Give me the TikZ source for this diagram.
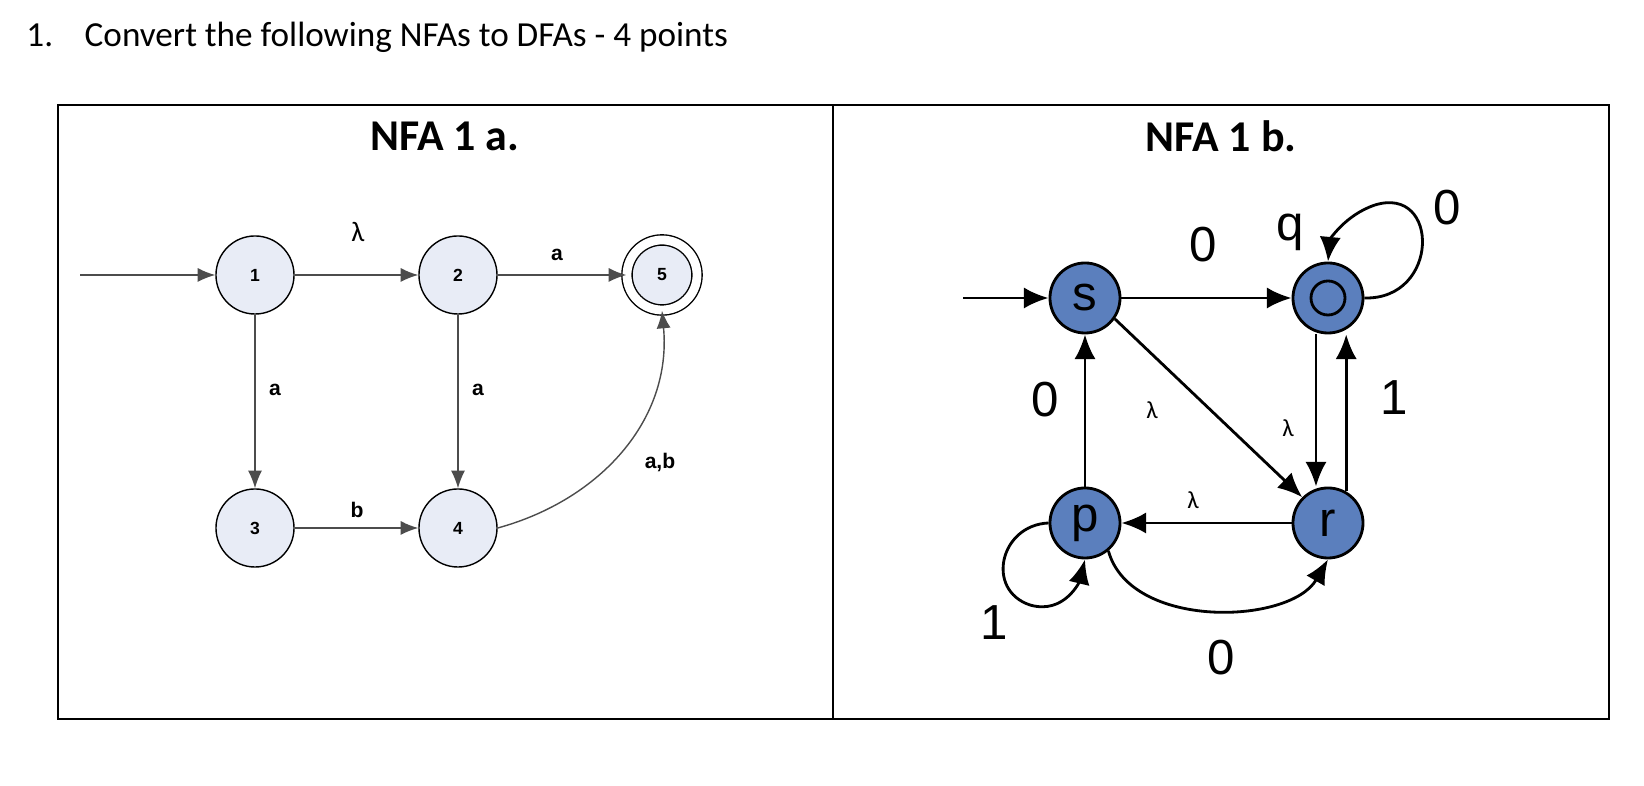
\documentclass[tikz,border=0pt]{standalone}
\usepackage{fontspec}
\setmainfont{Carlito}
\newfontfamily\arialfont{Liberation Sans}
\usetikzlibrary{arrows.meta, positioning}
\definecolor{nfagrey}{HTML}{E8ECF6}
\definecolor{nfablue}{HTML}{5B7FBD}
\begin{document}
\begin{tikzpicture}[x=0.01cm, y=-0.01cm,
    small state/.style={draw, circle, fill=nfagrey, minimum size=0.78cm, inner sep=0pt, font=\arialfont\bfseries\fontsize{5}{6}\selectfont},
    big state/.style={draw, circle, fill=nfablue, minimum size=0.70cm, inner sep=0pt, thick, font=\arialfont\fontsize{14}{14}\selectfont},
    thin arrow/.style={-{Latex[length=5pt,width=4pt]}, draw=black!70},
    thick arrow/.style={-{Latex[length=7pt,width=6pt]}, thick},
    small lbl/.style={font=\arialfont\bfseries\fontsize{6}{7}\selectfont},
    big lbl/.style={font=\arialfont\fontsize{14}{14}\selectfont}]
    \useasboundingbox (0,0) rectangle (1644,786);

    % Header and table
    \node[anchor=west, font=\fontsize{10}{12}\selectfont] (head) at (14,37) {1.\hspace{0.9em}Convert the following NFAs to DFAs - 4 points};
    \draw (58,105) rectangle (1609,719);
    \draw (833,105) -- (833,719);
    \node[font=\bfseries\fontsize{12.5}{14}\selectfont] (titlea) at (445,136) {NFA 1 a.};
    \node[font=\bfseries\fontsize{12.5}{14}\selectfont] (titleb) at (1221,136) {NFA 1 b.};

    % NFA 1 a
    \node[small state] (n1) at (255,275) {1};
    \node[small state] (n2) at (458,275) {2};
    \node[small state, double, double distance=2.5pt, minimum size=0.70cm] (n5) at (662,275) {5};
    \node[small state] (n3) at (255,528) {3};
    \node[small state] (n4) at (458,528) {4};
    \coordinate (starta) at (80,275);

    \draw[thin arrow] (starta) -- (n1);
    \draw[thin arrow] (n1) -- (n2);
    \draw[thin arrow] (n2) -- (n5);
    \draw[thin arrow] (n1) -- (n3);
    \draw[thin arrow] (n2) -- (n4);
    \draw[thin arrow] (n3) -- (n4);
    \draw[thin arrow] (n4.east) .. controls (600,500) and (672,420) .. (n5.south);

    \node[font=\fontsize{8}{9}\selectfont] (la) at (358,232) {λ};
    \node[small lbl] (lb) at (557,255) {a};
    \node[small lbl] (lc) at (275,390) {a};
    \node[small lbl] (ld) at (478,390) {a};
    \node[small lbl] (le) at (357,510) {b};
    \node[small lbl] (lf) at (660,462) {a,b};

    % NFA 1 b
    \node[big state] (s) at (1085,298) {s};
    \node[big state] (q) at (1328,298) {};
    \draw[thick] (q.center) circle (0.17cm);
    \node[big state] (p) at (1085,523) {p};
    \node[big state] (r) at (1328,523) {r};
    \coordinate (startb) at (963,298);

    \draw[thick arrow] (startb) -- (s);
    \draw[thick arrow] (s) -- (q);
    \draw[thick arrow] (p) -- (s);
    \draw[thick arrow] (s.-35) -- (r.135);
    \draw[thick arrow] (r) -- (p);
    \draw[thick arrow] ([xshift=-0.12cm]q.south) -- ([xshift=-0.12cm]r.north);
    \draw[thick arrow] (r.60) -- (r.60 |- q.south);
    \draw[thick arrow] (q.east) .. controls (1440,300) and (1440,185) .. (1375,205) .. controls (1345,215) and (1330,240) .. (q.north);
    \draw[thick arrow] (p.west) .. controls (1000,525) and (985,590) .. (1030,605) .. controls (1065,615) and (1080,580) .. (p.south);
    \draw[thick arrow] (p.-50) .. controls (1130,630) and (1290,625) .. (r.south);

    \node[big lbl] (lq) at (1290,232) {q};
    \node[big lbl] (l0a) at (1203,245) {0};
    \node[big lbl] (l0b) at (1447,208) {0};
    \node[big lbl] (l0c) at (1045,400) {0};
    \node[big lbl] (l1a) at (1394,398) {1};
    \node[big lbl] (l1b) at (994,623) {1};
    \node[big lbl] (l0d) at (1221,658) {0};
    \node[font=\fontsize{7}{8}\selectfont] (lm1) at (1152,410) {λ};
    \node[font=\fontsize{7}{8}\selectfont] (lm2) at (1288,428) {λ};
    \node[font=\fontsize{7}{8}\selectfont] (lm3) at (1193,500) {λ};
\end{tikzpicture}
\end{document}
